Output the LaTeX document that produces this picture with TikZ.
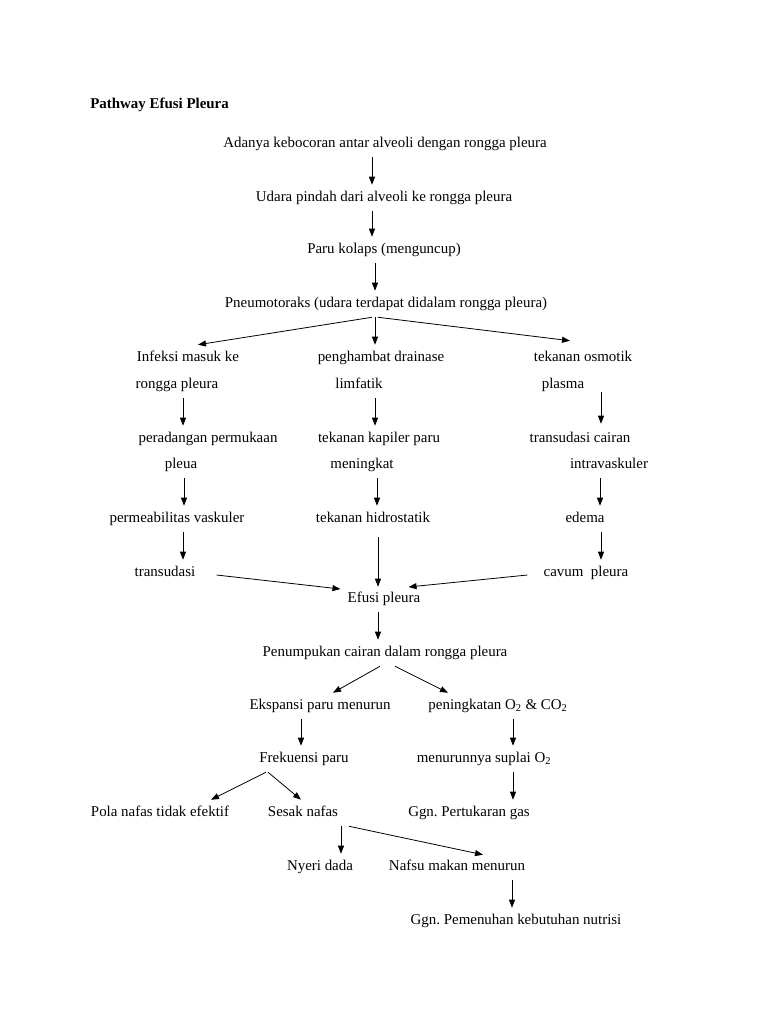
\documentclass[tikz,border=0pt]{standalone}
\usepackage{fontspec}
\setmainfont{Liberation Serif}
\usetikzlibrary{arrows.meta,calc}
\frenchspacing

\begin{document}
\begin{tikzpicture}[x=0.75pt,y=-0.75pt,
  font=\fontsize{11.2}{13}\selectfont,
  txt/.style={inner xsep=0pt,inner ysep=4.5pt,text height=8pt,text depth=2.5pt,yshift=-1.5pt},
  arr/.style={-{Triangle[length=6pt,width=4.5pt]},line width=0.6pt},
]
\fill[white] (0,0) rectangle (768,1024);
\useasboundingbox (0,0) rectangle (768,1024);

% ---------------- title ----------------
\node[txt,anchor=west,font=\fontsize{11.2}{13}\selectfont\bfseries] (title) at (90,103) {Pathway Efusi Pleura};

% ---------------- main stem ----------------
\node[txt] (a1) at (385,142) {Adanya kebocoran antar alveoli dengan rongga pleura};
\node[txt] (a2) at (384,196) {Udara pindah dari alveoli ke rongga pleura};
\node[txt] (a3) at (384,248) {Paru kolaps (menguncup)};
\node[txt] (a4) at (386,302) {Pneumotoraks (udara terdapat didalam rongga pleura)};
\draw[arr] (a1.south -| 372,0) -- (a2.north -| 372,0);
\draw[arr] (a2.south -| 372,0) -- (a3.north -| 372,0);
\draw[arr] (a3.south -| 375,0) -- (a4.north -| 375,0);

% ---------------- three branches ----------------
\node[txt] (l1a) at (188,356) {Infeksi masuk ke};
\node[txt] (l1b) at (177,383) {rongga pleura};
\node[txt] (l2a) at (208,437) {peradangan permukaan};
\node[txt] (l2b) at (181,463) {pleua};
\node[txt] (l3)  at (177,517) {permeabilitas vaskuler};
\node[txt] (l4)  at (165,571) {transudasi};

\node[txt] (m1a) at (381,356) {penghambat drainase};
\node[txt] (m1b) at (359,383) {limfatik};
\node[txt] (m2a) at (379,437) {tekanan kapiler paru};
\node[txt] (m2b) at (362,463) {meningkat};
\node[txt] (m3)  at (373,517) {tekanan hidrostatik};

\node[txt] (r1a) at (583,356) {tekanan osmotik};
\node[txt] (r1b) at (563,383) {plasma};
\node[txt] (r2a) at (580,437) {transudasi cairan};
\node[txt] (r2b) at (609,463) {intravaskuler};
\node[txt] (r3)  at (585,517) {edema};
\node[txt] (r4)  at (586,571) {cavum\ \ pleura};

\draw[arr] (a4.south -| 372,0) -- (l1a.north -| 198,0);
\draw[arr] (a4.south -| 375,0) -- (m1a.north -| 375,0);
\draw[arr] (a4.south -| 378,0) -- ($(r1a.north)+(-13,-4)$);

\draw[arr] (l1b.south -| 183,0) -- (l2a.north -| 183,0);
\draw[arr] (l2b.south -| 184,0) -- (l3.north -| 184,0);
\draw[arr] (l3.south -| 183,0) -- (l4.north -| 183,0);

\draw[arr] (m1b.south -| 375,0) -- (m2a.north -| 375,0);
\draw[arr] (m2b.south -| 377,0) -- (m3.north -| 377,0);

\draw[arr] ($(r1b.south)+(38,-6)$) -- ($(r2a.north)+(21,-2)$);
\draw[arr] (r2b.south -| 600,0) -- (r3.north -| 600,0);
\draw[arr] (r3.south -| 601,0) -- (r4.north -| 601,0);

% ---------------- efusi pleura ----------------
\node[txt] (ef) at (384,597) {Efusi pleura};
\node[txt] (pc) at (385,651) {Penumpukan cairan dalam rongga pleura};
\draw[arr] ($(m3.south)+(5,5)$) -- ($(ef.north)+(-6,1)$);
\draw[arr] ($(l4.east)+(21,2)$) -- ($(ef.west)+(-7,-10)$);
\draw[arr] ($(r4.west)+(-16,2)$) -- ($(ef.east)+(-12,-12)$);
\draw[arr] (ef.south -| 378,0) -- (pc.north -| 378,0);

% ---------------- consequences ----------------
\node[txt] (ek) at (320,704) {Ekspansi paru menurun};
\node[txt] (pk) at (498,704) {peningkatan O\textsubscript{2} \& CO\textsubscript{2}};
\node[txt] (fr) at (304,757) {Frekuensi paru};
\node[txt] (ms) at (484,757) {menurunnya suplai O\textsubscript{2}};
\node[txt] (pn) at (160,811) {Pola nafas tidak efektif};
\node[txt] (sn) at (303,811) {Sesak nafas};
\node[txt] (gp) at (469,811) {Ggn. Pertukaran gas};
\node[txt] (nd) at (320,865) {Nyeri dada};
\node[txt] (nm) at (457,865) {Nafsu makan menurun};
\node[txt] (gn) at (516,919) {Ggn. Pemenuhan kebutuhan nutrisi};

\draw[arr] (pc.south -| 380,0) -- (ek.north -| 333,0);
\draw[arr] (pc.south -| 395,0) -- (pk.north -| 448,0);
\draw[arr] (ek.south -| 301,0) -- (fr.north -| 301,0);
\draw[arr] (pk.south -| 513,0) -- (ms.north -| 513,0);
\draw[arr] (fr.south -| 266,0) -- (pn.north -| 211,0);
\draw[arr] (fr.south -| 268,0) -- (sn.north -| 301,0);
\draw[arr] (ms.south -| 513,0) -- (gp.north -| 513,0);
\draw[arr] (sn.south -| 341,0) -- (nd.north -| 341,0);
\draw[arr] (sn.south -| 349,0) -- ($(nm.north)+(26,1)$);
\draw[arr] (nm.south -| 512,0) -- (gn.north -| 512,0);
\end{tikzpicture}
\end{document}
